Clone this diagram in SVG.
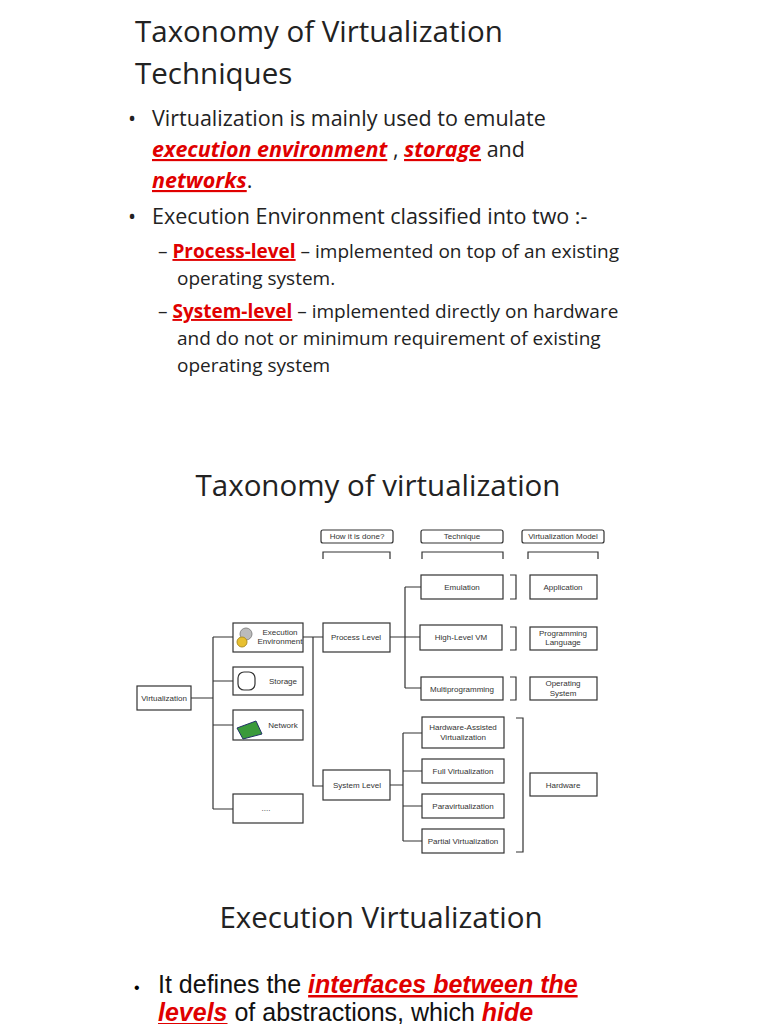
<svg xmlns="http://www.w3.org/2000/svg" width="768" height="1024" viewBox="0 0 768 1024">
<style>
.t{font-family:"Open Sans","Liberation Sans",sans-serif;fill:#222}
.h{font-size:29.5px}
.b{font-size:21.5px}
.s{font-size:19px}
.r{fill:#e00000;font-weight:bold;text-decoration:underline}
.ri{font-style:italic}
.n rect{fill:#fff;stroke:#333;stroke-width:1.2}
.n text{font-family:"Liberation Sans",Arial,sans-serif;font-size:8px;fill:#333;text-anchor:middle}
.c path{fill:none;stroke:#333;stroke-width:1.2}
</style>
<rect width="768" height="1024" fill="#fff"/>
<text class="t h" x="135" y="42">Taxonomy of Virtualization</text>
<text class="t h" x="135" y="84">Techniques</text>
<text class="t b" x="128" y="126">•</text>
<text class="t b" x="152" y="126">Virtualization is mainly used to emulate</text>
<text class="t b" x="152" y="157"><tspan class="r ri">execution environment</tspan> , <tspan class="r ri">storage</tspan> and</text>
<text class="t b" x="152" y="188"><tspan class="r ri">networks</tspan>.</text>
<text class="t b" x="128" y="224">•</text>
<text class="t b" x="152" y="224">Execution Environment classified into two :-</text>
<text class="t s" x="158" y="258">– <tspan class="r">Process-level</tspan> – implemented on top of an existing</text>
<text class="t s" x="177" y="285">operating system.</text>
<text class="t s" x="158" y="318">– <tspan class="r">System-level</tspan> – implemented directly on hardware</text>
<text class="t s" x="177" y="345">and do not or minimum requirement of existing</text>
<text class="t s" x="177" y="372">operating system</text>
<text class="t h" x="378" y="496" text-anchor="middle">Taxonomy of virtualization</text>

<g class="c">
<path d="M191 698H213M213 637V809M213 637H233M213 681H233M213 725H233M213 809H233"/>
<path d="M303 637H323M313 637V786H323"/>
<path d="M390 637H421M405 587V688M405 587H421M405 688H421"/>
<path d="M390 785H403M403 733V841M403 733H422M403 771H422M403 806H422M403 841H422"/>
<path d="M323 559V552H390V559M422 559V552H503V559M528 559V552H598V559"/>
<path d="M510 575H516V599H510M510 627H516V650H510M510 677H516V700H510M516 718H523V852H516"/>
</g>

<g class="n" id="hdr1"><rect x="321" y="530" width="72" height="13" rx="2"/><text x="357" y="539">How it is done?</text></g>
<g class="n" id="hdr2"><rect x="421" y="530" width="82" height="13" rx="2"/><text x="462" y="539">Technique</text></g>
<g class="n" id="hdr3"><rect x="522" y="530" width="82" height="13" rx="2"/><text x="563" y="539">Virtualization Model</text></g>
<g class="n" id="virt"><rect x="137" y="686" width="54" height="24"/><text x="164" y="701">Virtualization</text></g>
<g class="n" id="exec"><rect x="233" y="623" width="70" height="29"/>
<circle cx="246" cy="634" r="6" fill="#bbb" stroke="#888"/><circle cx="242" cy="642" r="5" fill="#e8c030" stroke="#b09020"/>
<text x="280" y="635">Execution</text><text x="280" y="644">Environment</text></g>
<g class="n" id="storage"><rect x="233" y="667" width="70" height="28"/>
<rect x="238" y="672" width="17" height="18" rx="6" fill="#aaa" stroke="#777"/>
<text x="283" y="684">Storage</text></g>
<g class="n" id="network"><rect x="233" y="710" width="70" height="30"/>
<path d="M237 728L256 721L262 734L243 739Z" fill="#3a9a3a" stroke="#236"/>
<text x="283" y="728">Network</text></g>
<g class="n" id="more"><rect x="233" y="794" width="70" height="29"/><text x="266" y="811">....</text></g>
<g class="n" id="proc"><rect x="323" y="623" width="67" height="29"/><text x="356" y="640">Process Level</text></g>
<g class="n" id="sys"><rect x="323" y="770" width="67" height="30"/><text x="357" y="788">System Level</text></g>
<g class="n" id="emu"><rect x="421" y="575" width="82" height="24" stroke-width="1.6"/><text x="462" y="590">Emulation</text></g>
<g class="n" id="hlvm"><rect x="420" y="625" width="82" height="25"/><text x="461" y="640">High-Level VM</text></g>
<g class="n" id="multi"><rect x="421" y="677" width="82" height="23" stroke-width="1.6"/><text x="462" y="692">Multiprogramming</text></g>
<g class="n" id="hwa"><rect x="422" y="717" width="82" height="31"/><text x="463" y="730">Hardware-Assisted</text><text x="463" y="740">Virtualization</text></g>
<g class="n" id="full"><rect x="422" y="759" width="82" height="24"/><text x="463" y="774">Full Virtualization</text></g>
<g class="n" id="para"><rect x="422" y="794" width="82" height="24"/><text x="463" y="809">Paravirtualization</text></g>
<g class="n" id="partial"><rect x="422" y="829" width="82" height="24"/><text x="463" y="844">Partial Virtualization</text></g>
<g class="n" id="app"><rect x="530" y="575" width="67" height="24"/><text x="563" y="590">Application</text></g>
<g class="n" id="pl"><rect x="530" y="627" width="67" height="23"/><text x="563" y="636">Programming</text><text x="563" y="645">Language</text></g>
<g class="n" id="os"><rect x="530" y="677" width="67" height="23"/><text x="563" y="686">Operating</text><text x="563" y="696">System</text></g>
<g class="n" id="hw"><rect x="530" y="773" width="67" height="23"/><text x="563" y="788">Hardware</text></g>

<text class="t h" x="381" y="928" text-anchor="middle">Execution Virtualization</text>
<text x="134" y="993" style="font-family:'Liberation Sans',Arial,sans-serif;font-size:16px">•</text>
<text x="158" y="993" style="font-family:'Liberation Sans',Arial,sans-serif;font-size:25px;fill:#111">It defines the <tspan fill="#e00000" font-weight="bold" font-style="italic" text-decoration="underline">interfaces between the</tspan></text>
<text x="158" y="1021" style="font-family:'Liberation Sans',Arial,sans-serif;font-size:25px;fill:#111"><tspan fill="#e00000" font-weight="bold" font-style="italic" text-decoration="underline">levels</tspan> of abstractions, which <tspan fill="#e00000" font-weight="bold" font-style="italic">hide</tspan></text>
</svg>
